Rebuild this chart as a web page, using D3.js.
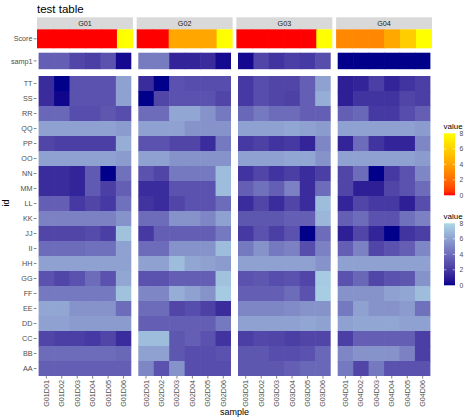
<!DOCTYPE html>
<html><head><meta charset="utf-8">
<script src="https://cdn.jsdelivr.net/npm/d3@7/dist/d3.min.js"></script>
<style>body{margin:0;background:#fff}svg{font-family:"Liberation Sans",Arial,sans-serif}</style>
</head><body><svg id="c" width="474" height="419"></svg>
<script>
const groups = ["G01","G02","G03","G04"];
const reps = ["D01","D02","D03","D04","D05","D06"];
const ids = ["TT","SS","RR","QQ","PP","OO","NN","MM","LL","KK","JJ","II","HH","GG","FF","EE","DD","CC","BB","AA"];
const scoreValues = [0,0,0,0,0,8, 0,0,4.2,4.2,4.2,8, 0,0,0,0,0,8, 3,3,3,4.3,5.8,8];
const samp1Values = [3.5,3.5,2.5,2.2,3,0.3, 4.6,4.6,1.2,1.2,1.5,0.3, 0.3,2.5,1.8,2.2,2,2.8, 0,0,0,0,0,0];
const heatValues = [
 [1.5,0,3,3,3,6,        1.5,0,3,2.8,2.8,2.8,    2,2.8,2.5,2.5,3.5,6,    1,1.2,2.2,1.2,1.8,2.2],
 [1.5,0.2,3,3,3,6,      0,2.5,3,3,3,2.5,        2,2.8,2.5,2.3,3.5,6.5,  1,1.8,1.8,1.8,2.5,2.2],
 [3.8,3.8,2.8,2.8,3.2,2.8, 4,4,6.2,6.2,5.5,4.5, 3.8,4.5,4,4,3.5,3.5,    3.5,3.8,2,2,2.8,3.5],
 [6,6,6,6,6,5.8,        6,6,6,5.5,5.5,5.5,      6,6,6,6.2,6,5.8,        6,6,6,6,6,5.8],
 [2.5,2.2,2.2,2.2,2.2,6.5, 3,3,2.5,2.5,1.5,4.5, 2,2.3,1.8,2,1.2,5,      1.2,4,1.8,1.2,1.2,5],
 [6,6,6,6,6,5.8,        6,6,5.5,5.5,5.5,5.5,    6,6,6,6.2,6.2,5.5,      6,6,6,6,6,5.8],
 [1.5,1.5,1.2,3.3,0,4.2, 3,2.5,4.5,4.5,4.5,7,   1.8,2.5,1.8,2.2,1.5,2.2, 2.5,4,0,2,3,5],
 [1.5,1.5,1.2,3.3,2.2,3.5, 1.5,1.5,3,3,3,7,     3.5,4.2,3.5,4.8,1.5,4,  2.5,1,1,2.5,3,4],
 [3.5,3.5,2,2.5,2,4.2,  1.8,1.5,2.5,3,3,4,      1.5,2.5,1.5,2.5,1.5,7,  1.2,2.5,2,2,1,2.8],
 [4.8,4.8,4.8,4.8,4.8,5.5, 4,4,5.5,5.5,5,6,     3.2,3.2,3.2,3.5,3.5,6.8, 3.5,4,3,3,4.2,4.8],
 [2.5,2.5,2.5,2.7,2.2,7.2, 2,3.5,3.5,3.5,3.5,4.5, 2,3,2.2,3,0,4,        1,2.5,1.2,0,1.8,2.2],
 [4,4,4,4.2,4.2,6,      4,4,5.5,5.5,5.5,7,      4.5,5.5,4.5,4.8,2.8,4.8, 3.5,4.8,2.5,3,3.5,5],
 [6,6,6,6,6,6,          6,6,7,6.2,6,5.8,        6,6,6,6,6,5.5,          6,6,6,6,6,6],
 [3,2.5,3,4,3,6.2,      3,3,3.5,3.5,3.5,7.2,    3,3.2,2.8,3,2.5,7.5,    3,3.8,2.5,3,3.2,5.5],
 [4.5,4.5,4.5,4.5,4.5,7.2, 5,5,6.5,6,5.5,7.5,   3.5,3.5,3.5,4,3,7.6,    5.5,5.5,5.5,6,6.2,7],
 [6.2,6.2,5.5,5.5,5.5,4, 4,4,2.5,2.8,2.3,1.5,   5,5,5,5.2,5.5,5.5,      4.5,6,5.5,5.5,5.8,4.2],
 [6,6,5.8,5.8,5.8,5.8,  3.5,3.5,3.5,3.5,3.5,4.5, 6,6,6,6,6.2,6,        6,6.2,6.2,6.2,6,6],
 [2.5,2.2,2.2,2,2.5,1.5, 7,7,3.2,3.5,3,1.8,     2.2,2.6,2.5,2.2,2.5,2.5, 2.2,3.5,3.5,3.5,3.5,2.2],
 [4,4,4,4,4,3.8,        6,6,3.2,2.8,2.8,3,      3.2,3.2,2.8,2.8,3,3.8,  5,5.5,5.5,5.5,4.8,2.2],
 [3.5,3.5,3.5,3.5,3.5,3.5, 5,3,5.5,2.8,2.8,2.8, 3.2,3.2,3.2,3.5,3.8,3.8, 4.5,2.5,4.5,3,3,3]
];
const legendTicks = [0,2,4,6,8];

const svg = d3.select("#c");
const scoreColor = d3.scaleLinear().domain([0,8]).range(["red","yellow"]).interpolate(d3.interpolateLab);
const blueColor = d3.scaleLinear().domain([0,8]).range(["darkblue","lightblue"]).interpolate(d3.interpolateLab);

const samples = [];
groups.forEach(g => reps.forEach(r => samples.push({g, r, name: g + r})));

const gx = d3.scaleBand().domain(groups).range([37, 432]).paddingInner(0.038);
const sx = {};
groups.forEach(g => {
  sx[g] = d3.scaleBand().domain(reps).range([gx(g) + 1.6, gx(g) + gx.bandwidth() - 1.6]);
});
const y = d3.scaleBand().domain(ids).range([76, 376]);

function tile(x, yy, w, h, c, extendR, extendB) {
  svg.append("rect").attr("x", x).attr("y", yy)
    .attr("width", w + (extendR ? 0.6 : 0)).attr("height", h + (extendB ? 0.6 : 0))
    .attr("fill", c);
}

// title
svg.append("text").attr("x", 37).attr("y", 12.5).attr("font-size", 11.5).attr("fill", "#000").text("test table");

// strips
groups.forEach(g => {
  svg.append("rect").attr("x", gx(g)).attr("y", 17.3).attr("width", gx.bandwidth()).attr("height", 12).attr("fill", "#d9d9d9");
  svg.append("text").attr("x", gx(g) + gx.bandwidth()/2).attr("y", 26).attr("text-anchor", "middle")
    .attr("font-size", 7.2).attr("fill", "#1a1a1a").text(g);
});

// score row
samples.forEach((s, i) => {
  const full = d3.scaleBand().domain(reps).range([gx(s.g), gx(s.g) + gx.bandwidth()]);
  tile(full(s.r), 29.3, full.bandwidth(), 19, scoreColor(scoreValues[i]), s.r !== "D06", false);
});
// samp1 row
samples.forEach((s, i) => {
  tile(sx[s.g](s.r), 52.7, sx[s.g].bandwidth(), 16.5, blueColor(samp1Values[i]), s.r !== "D06", false);
});
// heatmap
ids.forEach((id, ri) => {
  samples.forEach((s, i) => {
    tile(sx[s.g](s.r), y(id), sx[s.g].bandwidth(), y.bandwidth(), blueColor(heatValues[ri][i]), s.r !== "D06", ri < ids.length - 1);
  });
});

// y axis labels
const yLab = [{t: "Score", y: 38.8}, {t: "samp1", y: 60.9}].concat(ids.map(id => ({t: id, y: y(id) + y.bandwidth()/2})));
yLab.forEach(d => {
  svg.append("line").attr("x1", 33.8).attr("x2", 36.5).attr("y1", d.y).attr("y2", d.y).attr("stroke", "#333").attr("stroke-width", 0.6);
  svg.append("text").attr("x", 32.5).attr("y", d.y + 2.6).attr("text-anchor", "end").attr("font-size", 7.2).attr("fill", "#4d4d4d").text(d.t);
});

// x axis
samples.forEach(s => {
  const cx = sx[s.g](s.r) + sx[s.g].bandwidth()/2;
  svg.append("line").attr("x1", cx).attr("x2", cx).attr("y1", 376).attr("y2", 378.6).attr("stroke", "#333").attr("stroke-width", 0.6);
  svg.append("text").attr("transform", `translate(${cx + 2.5},380) rotate(-90)`).attr("text-anchor", "end")
    .attr("font-size", 7.2).attr("fill", "#4d4d4d").text(s.name);
});
svg.append("text").attr("x", 234.5).attr("y", 415).attr("text-anchor", "middle").attr("font-size", 9).attr("fill", "#000").text("sample");
svg.append("text").attr("transform", "translate(9,203) rotate(-90)").attr("text-anchor", "middle").attr("font-size", 9).attr("fill", "#000").text("id");

// legends
const defs = svg.append("defs");
function legend(id, color, top, titleY) {
  const grad = defs.append("linearGradient").attr("id", id).attr("x1", 0).attr("x2", 0).attr("y1", 1).attr("y2", 0);
  d3.range(0, 8.01, 0.5).forEach(v => grad.append("stop").attr("offset", v/8).attr("stop-color", color(v)));
  const ly = d3.scaleLinear().domain([0, 8]).range([top + 62, top]);
  svg.append("text").attr("x", 443.5).attr("y", titleY).attr("font-size", 8).attr("fill", "#000").text("value");
  svg.append("rect").attr("x", 444).attr("y", top).attr("width", 11).attr("height", 62).attr("fill", `url(#${id})`);
  legendTicks.forEach(v => {
    if (v > 0 && v < 8) {
      svg.append("line").attr("x1", 444).attr("x2", 446.3).attr("y1", ly(v)).attr("y2", ly(v)).attr("stroke", "#fff").attr("stroke-width", 0.6);
      svg.append("line").attr("x1", 452.7).attr("x2", 455).attr("y1", ly(v)).attr("y2", ly(v)).attr("stroke", "#fff").attr("stroke-width", 0.6);
    }
    svg.append("text").attr("x", 459.5).attr("y", ly(v) + 2.4).attr("font-size", 6.8).attr("fill", "#4d4d4d").text(v);
  });
}
legend("gScore", scoreColor, 133.3, 129);
legend("gBlue", blueColor, 223.3, 219);
</script></body></html>
